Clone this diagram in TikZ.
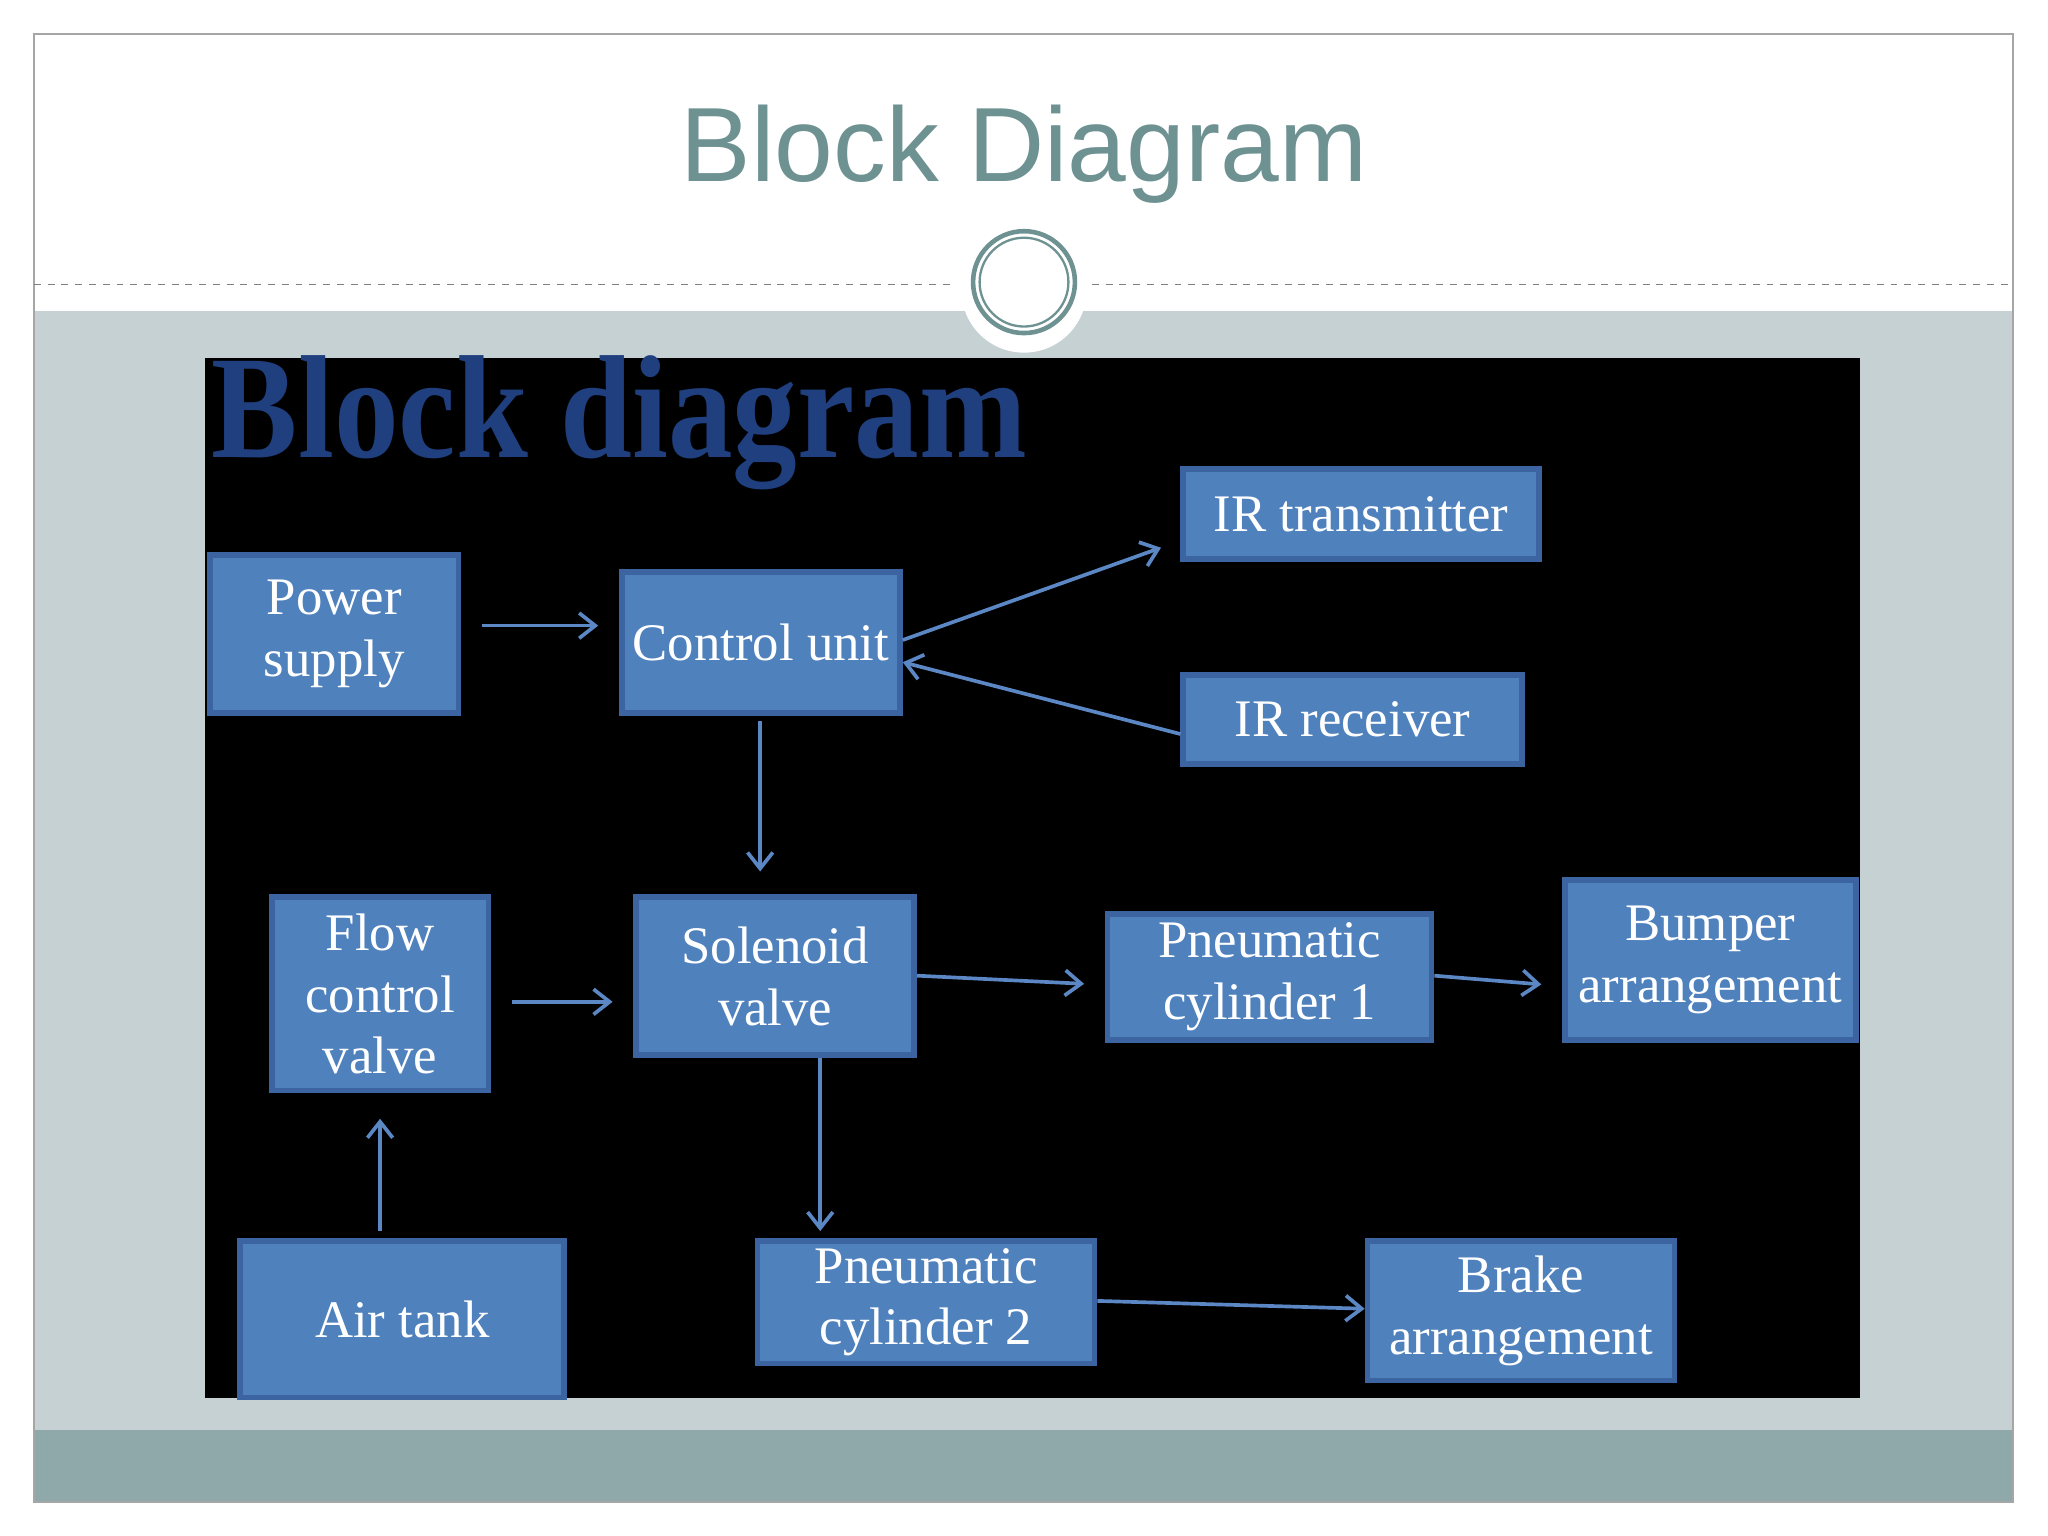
\documentclass[tikz,border=0pt]{standalone}
\usepackage{fontspec}
\setmainfont{Liberation Serif}
\newfontfamily\sansf{Liberation Sans}
\usetikzlibrary{arrows.meta}
\definecolor{boxfill}{HTML}{4F81BD}
\definecolor{boxline}{HTML}{3B64A0}
\definecolor{arr}{HTML}{5B87C5}
\definecolor{bgA}{HTML}{C5D1D3}
\definecolor{bgB}{HTML}{8FA9AA}
\definecolor{ttl}{HTML}{6E9192}
\definecolor{dblue}{HTML}{1F3F7F}
\tikzset{
 blk/.style={draw=boxline,line width=2.5pt,fill=boxfill,text=white,align=center,
   font=\fontsize{23}{27}\selectfont,inner sep=0pt},
 ar/.style={draw=arr,line width=1.6pt,-{Straight Barb[length=7pt,width=11pt]}}
}
\begin{document}
\begin{tikzpicture}[x=0.02cm,y=-0.02cm]
\useasboundingbox (0,0) rectangle (1568,1176);
\fill[white] (0,0) rectangle (1568,1176);
\fill[bgA] (26,238) rectangle (1541,1095);
\fill[bgB] (26,1095) rectangle (1541,1150);
\draw[gray!70,line width=0.8pt] (26,26) rectangle (1541,1150);
\draw[gray,dashed,line width=0.6pt] (26,218) -- (732,218) (836,218) -- (1541,218);
\fill[white] (784,222) circle (48);
\draw[ttl,line width=2pt] (784,216) circle (39);
\draw[ttl,line width=1pt] (784,216) circle (34);
\node[text=ttl,font=\sansf\fontsize{46}{50}\selectfont] (title) at (784,118) {Block Diagram};
\fill[black] (157,274) rectangle (1424,1070);
\node[text=dblue,anchor=base west,inner sep=0pt,font=\bfseries\fontsize{64}{66}\selectfont,xscale=0.88] (bd) at (162,350) {Block diagram};
\def\bx#1#2#3#4#5#6{\node[blk,minimum width={(#4-#2)*0.02cm},minimum height={(#5-#3)*0.02cm}] (#1) at ({(#2+#4)/2},{(#3+#5)/2}) {#6};}
\bx{ps}{161}{425}{351}{546}{Power\\supply}
\bx{cu}{476}{438}{689}{546}{Control unit}
\bx{irt}{906}{359}{1178}{428}{IR transmitter}
\bx{irr}{906}{517}{1165}{585}{IR receiver}
\bx{fcv}{208}{687}{374}{835}{Flow\\control\\valve}
\bx{sv}{487}{687}{700}{808}{Solenoid\\valve}
\bx{pc1}{848}{700}{1096}{796}{Pneumatic\\cylinder 1}
\bx{ba}{1198}{674}{1421}{796}{Bumper\\arrangement}
\bx{at}{184}{950}{432}{1070}{Air tank}
\bx{pc2}{580}{950}{838}{1044}{Pneumatic\\cylinder 2}
\bx{br}{1047}{950}{1282}{1057}{Brake\\arrangement}
\draw[ar,shorten <=9pt,shorten >=9pt] (ps.east|-0,479) -- (cu.west|-0,479);
\draw[ar,shorten >=9pt] (cu.east|-0,490) -- (irt.west|-0,414);
\draw[ar] (irr.west|-0,562) -- (cu.east|-0,507);
\draw[ar,shorten <=2pt,shorten >=10pt] (582,0|-cu.south) -- (582,0|-sv.north);
\draw[ar,shorten <=9pt,shorten >=9pt] (fcv.east|-0,767) -- (sv.west|-0,767);
\draw[ar,shorten >=9pt] (sv.east|-0,747) -- (pc1.west|-0,754);
\draw[ar,shorten >=9pt] (pc1.east|-0,747) -- (ba.west|-0,755);
\draw[ar,shorten >=3pt] (628,0|-sv.south) -- (628,0|-pc2.north);
\draw[ar] (pc2.east|-0,996) -- (br.west|-0,1002);
\draw[ar,shorten <=3pt,shorten >=11pt] (291,0|-at.north) -- (291,0|-fcv.south);
\end{tikzpicture}
\end{document}
